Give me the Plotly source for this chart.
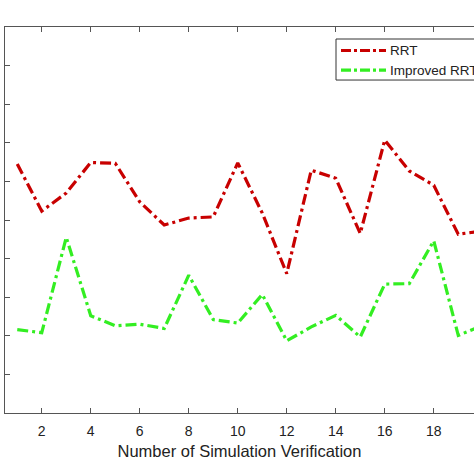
import plotly.graph_objects as go

runs = list(range(1, 21))
rrt = [6.45, 5.23, 5.70, 6.49, 6.47, 5.47, 4.87, 5.05, 5.08, 6.48,
       5.18, 3.61, 6.29, 6.08, 4.65, 7.07, 6.27, 5.90, 4.63, 4.72]
improved = [2.16, 2.08, 4.55, 2.52, 2.26, 2.30, 2.19, 3.57, 2.42, 2.33,
            3.07, 1.87, 2.23, 2.53, 1.97, 3.34, 3.35, 4.46, 2.01, 2.27]
series_names = ["RRT", "Improved RRT"]
series_colors = ["#C80000", "#33EE22"]
xticks = [2, 4, 6, 8, 10, 12, 14, 16, 18, 20]
yticks = list(range(0, 11))

dash = "11px,4px,3px,4px"
fig = go.Figure()
for name, vals, col in zip(series_names, [rrt, improved], series_colors):
    fig.add_trace(go.Scatter(x=runs, y=vals, mode="lines", name=name, showlegend=False,
                             line=dict(color=col, width=3.2, dash=dash)))

# pixel helpers for plot-area (paper) coordinates
L, T, W, H = 5, 27, 469, 385.7
def px(x):
    return (x - L) / W
def py(y):
    return (T + H - y) / H

# legend box (extends past the right edge as in the reference)
shapes = [dict(type="rect", xref="paper", yref="paper",
               x0=px(336), x1=px(490), y0=py(80), y1=py(39),
               line=dict(color="#333333", width=1), fillcolor="white", layer="above")]
annotations = []
row_y = [50.5, 70]
for name, col, ry in zip(series_names, series_colors, row_y):
    shapes.append(dict(type="line", xref="paper", yref="paper",
                       x0=px(341), x1=px(386), y0=py(ry), y1=py(ry),
                       line=dict(color=col, width=3.2, dash="10px,3px,3px,3px"), layer="above"))
    annotations.append(dict(text=name, xref="paper", yref="paper", x=px(388), y=py(ry),
                            xanchor="left", yanchor="middle", showarrow=False,
                            font=dict(size=13.5, color="#222222")))

axis_color = "#555555"
fig.update_layout(
    width=474, height=474,
    margin=dict(l=5, r=0, t=27, b=61),
    paper_bgcolor="white", plot_bgcolor="white",
    font=dict(family="Liberation Sans, Arial, sans-serif", size=14, color="#222222"),
    showlegend=False,
    shapes=shapes, annotations=annotations,
    xaxis=dict(range=[0.5, 0.5 + W / 24.5], tickmode="array", tickvals=xticks,
               ticks="inside", ticklen=5, tickcolor=axis_color,
               showline=True, linecolor=axis_color, linewidth=1, mirror="ticks",
               showgrid=False, zeroline=False, ticklabelstandoff=5,
               title=dict(text="Number of Simulation Verification", font=dict(size=16.5), standoff=7),
               tickfont=dict(size=14)),
    yaxis=dict(range=[0, 10], tickmode="array", tickvals=yticks,
               ticks="inside", ticklen=5, tickcolor=axis_color,
               showline=True, linecolor=axis_color, linewidth=1,
               showgrid=False, zeroline=False, showticklabels=False),
)

fig.write_html("out.html")
